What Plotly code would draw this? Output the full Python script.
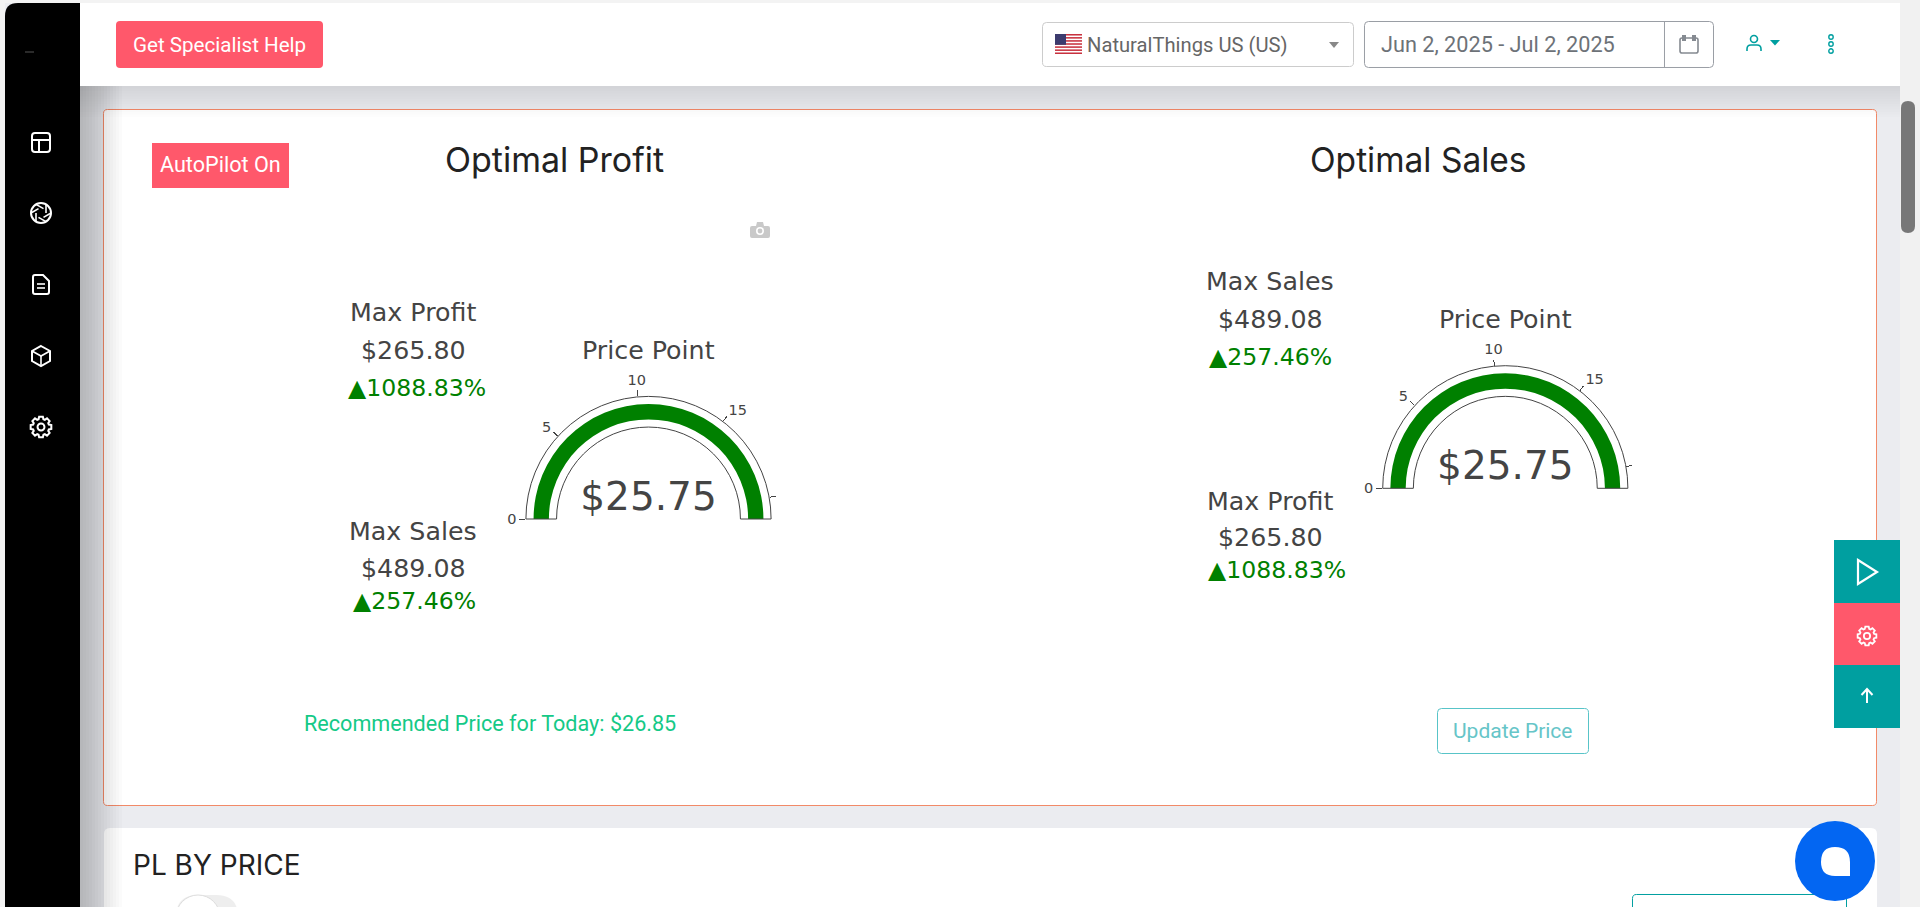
"""
optimal price gauges on the repricer dashboard page
"""
import math

import plotly.graph_objs as go

W = 1920
H = 907

# gauge data
GAUGE_TITLES = ['Price Point', 'Price Point']
GAUGE_VALUES = [25.75, 25.75]
GAUGE_TOP = [21.2, 21.2]
GAUGE_TICKS = [0, 5, 10, 15, 20]
GAUGE_TICK_LABELS = ['0', '5', '10', '15', '']

# side figures, left panel then right panel
PANEL_TITLES = ['Optimal Profit', 'Optimal Sales']
STAT_NAMES = ['Max Profit', 'Max Sales', 'Max Sales', 'Max Profit']
STAT_VALUES = [265.80, 489.08, 489.08, 265.80]
STAT_CHANGES = [1088.83, 257.46, 257.46, 1088.83]

STORE_NAME = 'NaturalThings US (US)'
DATE_RANGE = 'Jun 2, 2025 - Jul 2, 2025'
RECOMMENDED_PRICE = 26.85

BODY_FONT = 'DejaVu Sans'
HEAD_FONT = 'Inter'
UI_FONT = 'Roboto'
RED = '#ff586b'
TEAL = '#009fa0'
GREEN = '#008000'
GREY_TEXT = '#444444'

shapes = []
annotations = []


def fx(x):
    return x / W


def fy(y):
    return 1 - y / H


def add_rect(x0, y0, x1, y1, fill, line=None, width=1):
    shapes.append(dict(
        type='rect', xref='paper', yref='paper', layer='below',
        x0=fx(x0), x1=fx(x1), y0=fy(y0), y1=fy(y1), fillcolor=fill,
        line=dict(color=line or 'rgba(0,0,0,0)', width=width if line else 0)))


def add_circle(cx, cy, r, fill=None, line=None, width=1):
    shapes.append(dict(
        type='circle', xref='paper', yref='paper', layer='below',
        x0=fx(cx - r), x1=fx(cx + r), y0=fy(cy + r), y1=fy(cy - r),
        fillcolor=fill or 'rgba(0,0,0,0)',
        line=dict(color=line or 'rgba(0,0,0,0)', width=width if line else 0)))


def add_path(d, fill=None, line=None, width=1):
    # d is written in screen pixels, "M x y L x y Q x y x y Z"
    out = []
    is_x = True
    for tok in d.split():
        if tok.isalpha():
            out.append(tok)
            is_x = True
        elif is_x:
            out.append(f'{fx(float(tok)):.6f}')
            is_x = False
        else:
            out.append(f'{fy(float(tok)):.6f}')
            is_x = True
    shapes.append(dict(
        type='path', xref='paper', yref='paper', layer='below',
        path=' '.join(out), fillcolor=fill or 'rgba(0,0,0,0)',
        line=dict(color=line or 'rgba(0,0,0,0)', width=width if line else 0)))


def rrect(x0, y0, x1, y1, r):
    return (f'M {x0 + r} {y0} L {x1 - r} {y0} Q {x1} {y0} {x1} {y0 + r} '
            f'L {x1} {y1 - r} Q {x1} {y1} {x1 - r} {y1} '
            f'L {x0 + r} {y1} Q {x0} {y1} {x0} {y1 - r} '
            f'L {x0} {y0 + r} Q {x0} {y0} {x0 + r} {y0} Z')


def add_gear(cx, cy, r, color, width=1.6):
    pts = []
    for i in range(8):
        a = i * math.pi / 4
        for da, rr in ((-0.3, 0.78), (-0.18, 1.0), (0.18, 1.0), (0.3, 0.78)):
            pts.append((cx + rr * r * math.cos(a + da),
                        cy + rr * r * math.sin(a + da)))
    d = 'M ' + ' L '.join(f'{x:.2f} {y:.2f}' for x, y in pts) + ' Z'
    add_path(d, line=color, width=width)
    add_circle(cx, cy, r * 0.33, line=color, width=width)


def label(x, baseline, text, size, color=GREY_TEXT, family=BODY_FONT):
    annotations.append(dict(
        xref='paper', yref='paper', x=fx(x), y=fy(baseline - 0.35 * size),
        text=text, showarrow=False, xanchor='center', yanchor='middle',
        font=dict(family=family, size=size, color=color)))


# page furniture
add_rect(0, 0, W, H, '#ebecf0')
add_rect(0, 0, W, 3, '#f3f3f3')
add_rect(0, 0, 5, H, '#f3f3f3')
add_rect(1900, 0, W, H, '#f1f1f1')
add_path(rrect(1901, 101, 1915, 233, 7), fill='#787878')

# cards
add_path(rrect(103.5, 109.5, 1876.5, 805.5, 4), fill='#ffffff', line='#f28a68')
add_path(rrect(104, 828, 1877, 930, 6), fill='#ffffff')

# button poking in at the bottom of the lower card
add_path(rrect(1632.5, 894.5, 1846.5, 930, 4), fill='#ffffff', line=TEAL)

# toggle in the lower card
add_path(rrect(176, 895, 238, 940, 22), fill='#eeeeee')
add_circle(198, 917, 22, fill='#ffffff', line='#dddddd')

# shadows thrown by the header and the sidebar
for i in range(12):
    add_rect(80, 86, 1900, 86 + 2.6 * (i + 1), 'rgba(0,0,0,0.008)')
for i in range(14):
    add_rect(80, 3, 80 + 3 * (i + 1), H, 'rgba(0,0,0,0.014)')

# header bar
add_rect(80, 3, 1900, 86, '#ffffff')
add_path(rrect(116, 21, 323, 68, 4), fill=RED)

# sidebar
add_path(f'M 5 16 Q 5 3 18 3 L 80 3 L 80 {H} L 5 {H} Z', fill='#000000')
add_rect(25, 51.5, 34, 52.5, '#555555')
add_path(rrect(32, 133, 50, 152, 3), line='#ffffff', width=2)
add_path('M 32 140 L 50 140', line='#ffffff', width=2)
add_path('M 39 140 L 39 152', line='#ffffff', width=2)
add_circle(41, 213, 10, line='#ffffff', width=2)
for i in range(6):
    a = i * math.pi / 3
    x0 = 41 + 10 * math.cos(a)
    y0 = 213 + 10 * math.sin(a)
    x1 = 41 + 5 * math.cos(a + 1.05)
    y1 = 213 + 5 * math.sin(a + 1.05)
    add_path(f'M {x0:.2f} {y0:.2f} L {x1:.2f} {y1:.2f}', line='#ffffff', width=1.6)
add_path('M 33 277 Q 33 275 35 275 L 43 275 L 49 281 L 49 292 Q 49 294 47 294 '
         'L 35 294 Q 33 294 33 292 Z', line='#ffffff', width=2)
add_path('M 37 284 L 45 284', line='#ffffff', width=1.6)
add_path('M 37 288 L 45 288', line='#ffffff', width=1.6)
add_path('M 41 346 L 50 351 L 50 361 L 41 366 L 32 361 L 32 351 Z', line='#ffffff', width=2)
add_path('M 32 351 L 41 356 L 50 351', line='#ffffff', width=1.6)
add_path('M 41 356 L 41 366', line='#ffffff', width=1.6)
add_gear(41, 427, 10.5, '#ffffff', 2)

# store picker with its flag
add_path(rrect(1042.5, 22.5, 1353.5, 66.5, 4), fill='#ffffff', line='#cccccc')
add_rect(1055, 34, 1082, 54, '#ffffff')
for i in range(7):
    add_rect(1055, 34 + i * 3.08, 1082, 34 + i * 3.08 + 1.54, '#c8313e')
add_rect(1055, 34, 1066, 44.8, '#3c3b6e')
add_path('M 1329 42 L 1339 42 L 1334 48 Z', fill='#888888')

# date range box
add_path(rrect(1364.5, 21.5, 1713.5, 67.5, 4), fill='#ffffff', line='#9a9ea5')
add_path('M 1664.5 21.5 L 1664.5 67.5', line='#9a9ea5')
add_path(rrect(1680, 38, 1698, 53, 2), line='#858a91', width=1.6)
add_rect(1682, 35, 1686, 41, '#858a91')
add_rect(1692, 35, 1696, 41, '#858a91')

# user menu and kebab
add_circle(1754, 39, 3.5, line=TEAL, width=1.6)
add_path('M 1747 51 L 1747 49 Q 1747 45 1751 45 L 1757 45 Q 1761 45 1761 49 L 1761 51',
         line=TEAL, width=1.6)
add_path('M 1770 40 L 1780 40 L 1775 45.5 Z', fill=TEAL)
for y in (37, 44, 51):
    add_circle(1831, y, 2.2, line=TEAL, width=1.4)

# camera icon left over from the plot toolbar
add_path('M 752 226 L 756 226 L 757 222 L 763 222 L 764 226 L 768 226 '
         'Q 770 226 770 228 L 770 236 Q 770 238 768 238 L 752 238 '
         'Q 750 238 750 236 L 750 228 Q 750 226 752 226 Z', fill='#c9c9c9')
add_circle(760, 231, 4, fill='#ffffff')
add_circle(760, 231, 2.4, fill='#c9c9c9')

add_rect(152, 143, 289, 188, RED)
add_path(rrect(1437.5, 708.5, 1588.5, 753.5, 4), fill='#ffffff', line='#58c4c8')

# floating action column
add_rect(1834, 540, 1900, 603, TEAL)
add_rect(1834, 603, 1900, 665, RED)
add_rect(1834, 665, 1900, 728, TEAL)
add_path('M 1858 560 L 1877 572 L 1858 584 Z', line='#ffffff', width=2.2)
add_gear(1867, 636, 9.5, '#ffffff', 1.8)
add_path('M 1867 703 L 1867 689', line='#ffffff', width=2)
add_path('M 1861.5 695 L 1867 689 L 1872.5 695', line='#ffffff', width=2)

# chat bubble
add_circle(1835, 861, 40, fill='#0366f2')
add_path('M 1835 847 Q 1850 847 1850 862 L 1850 876 L 1835 876 '
         'Q 1821 876 1821 862 Q 1821 847 1835 847 Z', fill='#ffffff')

# page text
label(219.5, 52, 'Get Specialist Help', 20.6, '#ffffff', UI_FONT)
label(220.5, 172.5, 'AutoPilot On', 21.6, '#ffffff', UI_FONT)
label(554.5, 171, PANEL_TITLES[0], 34, '#222222', HEAD_FONT)
label(1418, 172, PANEL_TITLES[1], 33.5, '#222222', HEAD_FONT)
label(1187, 52, STORE_NAME, 20.2, '#666666', UI_FONT)
label(1497.5, 52, DATE_RANGE, 21.7, '#6d7278', UI_FONT)
label(490, 731, f'Recommended Price for Today: ${RECOMMENDED_PRICE:.2f}', 21.6, '#15c987', UI_FONT)
label(1513, 738, 'Update Price', 21, '#66c5c8', UI_FONT)
label(217, 875, 'PL BY PRICE', 28, '#222222', HEAD_FONT)

# stat blocks beside the gauges
STAT_X = [413, 413, 1270, 1270]
CHANGE_X = [416.5, 414.5, 1270, 1277]
NAME_BASELINES = [321.7, 540.5, 290.7, 510]
VALUE_BASELINES = [359, 577.7, 328, 546]
CHANGE_BASELINES = [396, 609, 365.5, 578.7]
for i, name in enumerate(STAT_NAMES):
    label(STAT_X[i], NAME_BASELINES[i], name, 25.3)
    label(STAT_X[i], VALUE_BASELINES[i], f'${STAT_VALUES[i]:.2f}', 25.3)
    label(CHANGE_X[i], CHANGE_BASELINES[i], f'▲{STAT_CHANGES[i]:.2f}%', 23.6, GREEN)

# gauges, positions are centre x and baseline y of each arc
GAUGE_CX = [648.5, 1505.3]
GAUGE_BASE = [519, 488.3]
RADIUS = 122.6

traces = []
for i, value in enumerate(GAUGE_VALUES):
    cx = GAUGE_CX[i]
    base = GAUGE_BASE[i]
    traces.append(go.Indicator(
        mode='gauge+number',
        value=value,
        number=dict(prefix='$', valueformat='.2f',
                    font=dict(family=BODY_FONT, size=39, color=GREY_TEXT)),
        domain=dict(x=[fx(cx - 130), fx(cx + 130)], y=[fy(base), fy(base - RADIUS)]),
        gauge=dict(
            shape='angular',
            bar=dict(color=GREEN, thickness=0.5),
            bgcolor='#ffffff',
            bordercolor=GREY_TEXT,
            borderwidth=1,
            axis=dict(
                range=[0, GAUGE_TOP[i]],
                tickvals=GAUGE_TICKS,
                ticktext=GAUGE_TICK_LABELS,
                tickmode='array',
                ticks='outside',
                ticklen=6,
                tickwidth=1,
                tickcolor=GREY_TEXT,
                tickfont=dict(family=BODY_FONT, size=14.5, color=GREY_TEXT),
            ),
        ),
    ))
    label(cx, base - 160, GAUGE_TITLES[i], 25.3)

fig = go.Figure(
    data=traces,
    layout=dict(
        width=W,
        height=H,
        margin=dict(l=0, r=0, t=0, b=0),
        paper_bgcolor='#ebecf0',
        showlegend=False,
        shapes=shapes,
        annotations=annotations,
    ))

# the page must sit flush with the window, as the screenshot does
fig.write_html(
    'out.html',
    config=dict(displayModeBar=False),
    post_script="document.body.style.margin='0';document.body.style.overflow='hidden';")
